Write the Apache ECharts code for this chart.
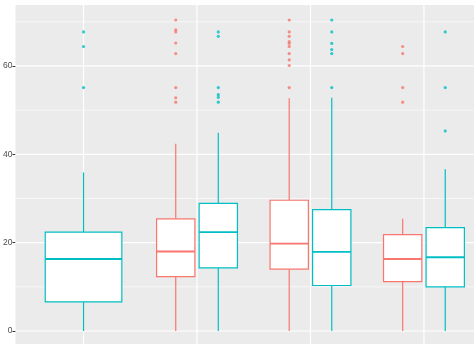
<!DOCTYPE html>
<html>
<head>
<meta charset="utf-8">
<script src="https://cdn.jsdelivr.net/npm/echarts@6/dist/echarts.min.js"></script>
<style>html,body{margin:0;padding:0;background:#fff}#c{width:474px;height:344px}</style>
</head>
<body>
<div id="c"></div>
<script>
// ---- data ----
const categories = ['1', '2', '3', '4'];
const yTicks = [0, 20, 40, 60];
const yMinor = [10, 30, 50, 70];
// [low whisker, Q1, median, Q3, high whisker] per category (null = no box)
const redStats = [null, [0, 12.3, 18.0, 25.4, 42.4], [0, 14.0, 19.8, 29.6, 52.7], [0, 11.2, 16.3, 21.8, 25.4]];
const tealStats = [[0, 6.6, 16.3, 22.4, 35.9], [0, 14.3, 22.4, 28.9, 44.9], [0, 10.3, 17.9, 27.5, 52.8], [0, 10.0, 16.7, 23.4, 36.6]];
const redOutliers = [
  [],
  [70.4, 68.2, 67.7, 65.2, 62.8, 55.1, 52.8, 51.8],
  [70.4, 67.7, 66.7, 65.5, 65.1, 64.4, 62.8, 61.4, 60.1, 55.1],
  [64.4, 62.8, 55.1, 51.8]
];
const tealOutliers = [
  [67.7, 64.4, 55.1],
  [67.7, 66.7, 55.1, 53.5, 52.9, 51.8],
  [70.4, 67.7, 65.1, 63.7, 62.8, 55.1],
  [67.7, 55.1, 45.3]
];

const RED = '#F8766D', TEAL = '#00BFC4';
const DODGE = 0.75;

function layout(i, which) {
  const both = redStats[i] && tealStats[i];
  if (!both) return { off: 0, w: DODGE * 0.9 };
  const slot = DODGE / 2;
  return { off: (which === 'red' ? -1 : 1) * slot / 2, w: slot * 0.9 };
}

function boxData(stats, which) {
  const out = [];
  stats.forEach((s, i) => {
    if (!s) return;
    const l = layout(i, which);
    out.push([i + 1, s[0], s[1], s[2], s[3], s[4], l.off, l.w]);
  });
  return out;
}
function outData(arr, which) {
  const out = [];
  arr.forEach((vals, i) => {
    const l = layout(i, which);
    vals.forEach(v => out.push([i + 1 + l.off, v]));
  });
  return out;
}

function boxRenderer(color) {
  return function (params, api) {
    const x = api.value(0) + api.value(6), w = api.value(7);
    const lo = api.value(1), q1 = api.value(2), md = api.value(3), q3 = api.value(4), hi = api.value(5);
    const tl = api.coord([x - w / 2, q3]), br = api.coord([x + w / 2, q1]);
    const c = api.coord([x, md]);
    const pLo = api.coord([x, lo]), pHi = api.coord([x, hi]);
    const pQ1 = api.coord([x, q1]), pQ3 = api.coord([x, q3]);
    const ls = { stroke: color, lineWidth: 1.2, fill: null };
    return {
      type: 'group',
      children: [
        { type: 'line', shape: { x1: pQ1[0], y1: pQ1[1], x2: pLo[0], y2: pLo[1] }, style: ls },
        { type: 'line', shape: { x1: pQ3[0], y1: pQ3[1], x2: pHi[0], y2: pHi[1] }, style: ls },
        { type: 'rect', shape: { x: tl[0], y: tl[1], width: br[0] - tl[0], height: br[1] - tl[1] }, style: { fill: '#fff', stroke: color, lineWidth: 1.2 } },
        { type: 'line', shape: { x1: tl[0], y1: c[1], x2: br[0], y2: c[1] }, style: { stroke: color, lineWidth: 1.8 } }
      ]
    };
  };
}

const gridLineData = [];
yTicks.forEach(v => gridLineData.push(['h', v, 1]));
yMinor.forEach(v => gridLineData.push(['h', v, 0]));
categories.forEach((c, i) => gridLineData.push(['v', i + 1, 1]));

const chart = echarts.init(document.getElementById('c'));
chart.setOption({
  animation: false,
  grid: { left: 12, top: 5, right: 0, bottom: 0, show: true, backgroundColor: '#EBEBEB', borderWidth: 0 },
  xAxis: { type: 'value', min: 0.4, max: 4.441, axisLine: { show: false }, axisTick: { show: false }, axisLabel: { show: false }, splitLine: { show: false } },
  yAxis: {
    type: 'value', min: -2.94, max: 73.8,
    axisLine: { show: false },
    axisTick: { show: true, length: 3, customValues: yTicks, lineStyle: { color: '#333', width: 1 } },
    axisLabel: { customValues: yTicks, color: '#4D4D4D', fontSize: 8.5, margin: 3, fontFamily: 'Liberation Sans' },
    splitLine: { show: false }
  },
  series: [
    {
      type: 'custom', z: 1, silent: true,
      data: gridLineData,
      encode: { x: 1, y: 1 },
      renderItem: function (params, api) {
        const cs = params.coordSys;
        const item = gridLineData[params.dataIndex];
        const major = item[2] === 1;
        const st = { stroke: '#FFFFFF', lineWidth: major ? 1.2 : 0.6 };
        if (item[0] === 'h') {
          const p = api.coord([1, item[1]]);
          return { type: 'line', shape: { x1: cs.x, y1: p[1], x2: cs.x + cs.width, y2: p[1] }, style: st };
        } else {
          const p = api.coord([item[1], 0]);
          return { type: 'line', shape: { x1: p[0], y1: cs.y, x2: p[0], y2: cs.y + cs.height }, style: st };
        }
      }
    },
    { type: 'custom', z: 2, data: boxData(redStats, 'red'), renderItem: boxRenderer(RED), encode: { x: 0, y: [1, 5] } },
    { type: 'custom', z: 2, data: boxData(tealStats, 'teal'), renderItem: boxRenderer(TEAL), encode: { x: 0, y: [1, 5] } },
    { type: 'scatter', z: 3, data: outData(redOutliers, 'red'), symbolSize: 3.2, itemStyle: { color: RED } },
    { type: 'scatter', z: 3, data: outData(tealOutliers, 'teal'), symbolSize: 3.2, itemStyle: { color: TEAL } }
  ]
});
</script>
</body>
</html>
